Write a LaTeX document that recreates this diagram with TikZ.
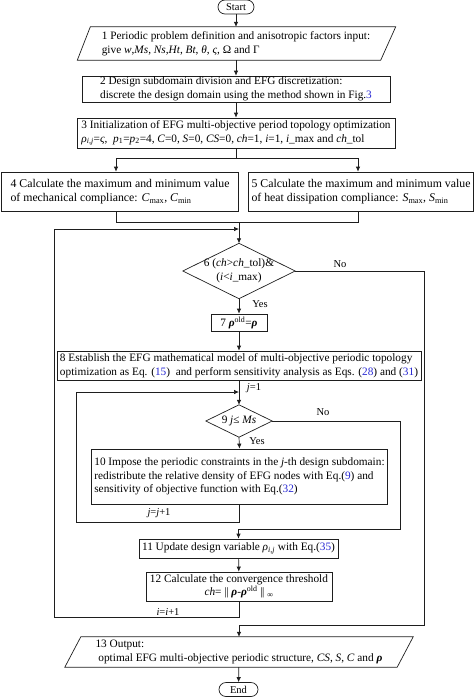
\documentclass[tikz,border=0pt]{standalone}
\usepackage{fontspec}
\setmainfont{Liberation Serif}
\usetikzlibrary{arrows.meta,calc}
\definecolor{refblue}{RGB}{40,40,210}
\definecolor{ink}{RGB}{30,30,30}
\newcommand{\rf}[1]{\textcolor{refblue}{#1}}
\newcommand{\ti}[1]{\textit{#1}}
\newcommand{\brho}{\textbf{\textit{ρ}}}
\newcommand{\lo}[1]{\textsubscript{#1}}
\newcommand{\hi}[1]{\textsuperscript{#1}}
\newcommand{\nrm}{\textbar\kern-0.3pt\textbar}
\tikzset{
  txt/.style={font=\fontsize{11.3}{13.5}\selectfont},
  box/.style={txt, draw=ink, line width=0.7pt, inner xsep=3pt, inner ysep=0pt, align=left},
  cbox/.style={box, align=center},
  shape only/.style={txt, inner sep=0pt, align=center},
  term/.style={draw=ink, line width=0.7pt, rounded corners=7pt, inner sep=0pt, font=\fontsize{10.5}{12}\selectfont},
  ln/.style={draw=ink, line width=0.7pt},
  arr/.style={ln, -{Latex[length=5pt,width=4.5pt]}},
  lbl/.style={font=\fontsize{10.5}{12}\selectfont, inner sep=0pt}
}
\begin{document}
\begin{tikzpicture}[x=1pt,y=-1pt]
\useasboundingbox (0,0) rectangle (474,697);

% terminals
\node[term, minimum width=36pt, minimum height=14pt] (start) at (236,7) {Start};
\node[term, minimum width=39pt, minimum height=14pt] (end) at (238.5,689.5) {End};

% box 1 (parallelogram)
\node[shape only, align=left, minimum width=304pt, minimum height=33pt] (b1) at (236,43.5)
  {1 Periodic problem definition and anisotropic factors input:\\
   give \ti{w},\ti{Ms}, \ti{Ns},\ti{Ht}, \ti{Bt}, \ti{θ}, \ti{ς}, Ω and Γ};
\draw[ln] ($(b1.north west)+(6.5,0)$) -- ($(b1.north east)+(7.5,0)$)
  -- ($(b1.south east)+(-7.5,0)$) -- ($(b1.south west)+(-6.5,0)$) -- cycle;

% box 2
\node[box, minimum width=308pt, minimum height=26pt] (b2) at (236,89)
  {2 Design subdomain division and EFG discretization:\\
   discrete the design domain using the method shown in Fig.\rf{3}};

% box 3
\node[box, minimum width=318pt, minimum height=30pt] (b3) at (236,133)
  {3 Initialization of EFG multi-objective period topology optimization\\
   \ti{ρ}\lo{\ti{i,j}}=\ti{ς}, \ \ti{p}\lo{1}=\ti{p}\lo{2}=4, \ti{C}=0, \ti{S}=0, \ti{CS}=0, \ti{ch}=1, \ti{i}=1, \ti{i}\_max and \ti{ch}\_tol};

% boxes 4, 5
\node[box, font=\fontsize{11.8}{14}\selectfont, minimum width=237pt, minimum height=39pt] (b4) at (120,191.5)
  {4 Calculate the maximum and minimum value\\
   of mechanical compliance: \ti{C}\lo{max}, \ti{C}\lo{min}};
\node[box, font=\fontsize{11.8}{14}\selectfont, minimum width=224pt, minimum height=39pt] (b5) at (361,191.5)
  {5 Calculate the maximum and minimum value\\
   of heat dissipation compliance: \ti{S}\lo{max}, \ti{S}\lo{min}};

% decision 6
\node[shape only, minimum width=112pt, minimum height=55pt] (d6) at (239,271)
  {6 (\ti{ch}>\ti{ch}\_tol)\&\\(\ti{i}<\ti{i}\_max)};
\draw[ln] (d6.north) -- (d6.east) -- (d6.south) -- (d6.west) -- cycle;

% box 7
\node[cbox, minimum width=56pt, minimum height=17pt] (b7) at (239,322.5)
  {7 \brho\hi{old}=\brho};

% box 8
\node[box, minimum width=360pt, minimum height=29pt] (b8) at (239,365.5)
  {8 Establish the EFG mathematical model of multi-objective periodic topology\\
   optimization as Eq. (\rf{15}) \ and perform sensitivity analysis as Eqs. (\rf{28}) and (\rf{31})};

% decision 9
\node[shape only, minimum width=66pt, minimum height=32pt] (d9) at (239,421)
  {9 \ti{j}≤ \ti{Ms}};
\draw[ln] (d9.north) -- (d9.east) -- (d9.south) -- (d9.west) -- cycle;

% box 10
\node[box, minimum width=295pt, minimum height=55pt] (b10) at (239.5,476.5)
  {10 Impose the periodic constraints in the \ti{j}-th design subdomain:\\
   redistribute the relative density of EFG nodes with Eq.(\rf{9}) and\\
   sensitivity of objective function with Eq.(\rf{32})};

% box 11
\node[cbox, minimum width=199pt, minimum height=19pt] (b11) at (238.5,548.5)
  {11 Update design variable \ti{ρ}\lo{\ti{i,j}} with Eq.(\rf{35})};

% box 12
\node[cbox, minimum width=186pt, minimum height=29pt] (b12) at (239,586.5)
  {12 Calculate the convergence threshold\\
   \ti{ch}= \nrm\ \brho-\brho\hi{old} \nrm\ \lo{∞}};

% box 13 (parallelogram)
\node[shape only, align=left, minimum width=332pt, minimum height=30pt] (b13) at (239,652)
  {13 Output:\\
   \ optimal EFG multi-objective periodic structure, \ti{CS}, \ti{S}, \ti{C} and \brho};
\draw[ln] ($(b13.north west)+(8,0)$) -- ($(b13.north east)+(8,0)$)
  -- ($(b13.south east)+(-8,0)$) -- ($(b13.south west)+(-8,0)$) -- cycle;

% helper coordinates
\coordinate (s3) at (236,158);
\coordinate (a4) at (116,158);
\coordinate (a5) at (358,158);
\coordinate (m) at (239,222);
\coordinate (ie) at (239,229);
\coordinate (iL) at (54,617);
\coordinate (je) at (239,392);
\coordinate (jL) at (76,522);
\coordinate (n6) at (424,625);
\coordinate (n9) at (400,529);

% connectors
\draw[arr] (start) -- (b1);
\draw[arr] (b1) -- (b2);
\draw[arr] (b2) -- (b3);
\draw[ln] (b3.south) -- (s3);
\draw[ln] (a4) -- (a5);
\draw[arr] (a4) -- (a4 |- b4.north);
\draw[arr] (a5) -- (a5 |- b5.north);
\draw[ln] (a4 |- b4.south) -- (a4 |- m) -- (a5 |- m) -- (a5 |- b5.south);
\draw[arr] (m) -- (d6.north);
\draw[arr] (b12.south) |- (iL) |- (ie);
\draw[arr] (d6.south) -- (b7.north);
\draw[arr] (b7) -- (b8);
\draw[arr] (b8) -- (d9.north);
\draw[arr] (b10.south) |- (jL) |- (je);
\draw[arr] (d9.south) -- (b10.north);
\draw[arr] (d9.east) -| (n9) -| (b11.north);
\draw[arr] (b11) -- (b12);
\draw[arr] (d6.east) -| (n6) -| (b13.north);
\draw[arr] (b13) -- (end);

% labels
\node[lbl] (no6) at (340,264) {No};
\node[lbl] (yes6) at (260,304) {Yes};
\node[lbl] (no9) at (323,412) {No};
\node[lbl] (yes9) at (257,441) {Yes};
\node[lbl] (jone) at (254,388) {\ti{j}=1};
\node[lbl] (jinc) at (159,513) {\ti{j}=\ti{j}+1};
\node[lbl] (iinc) at (168,612) {\ti{i}=\ti{i}+1};
\end{tikzpicture}
\end{document}
